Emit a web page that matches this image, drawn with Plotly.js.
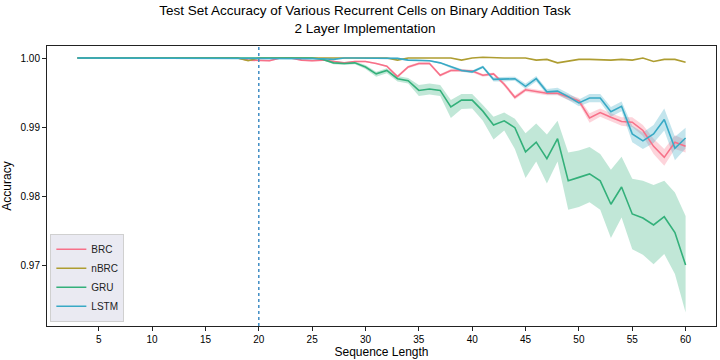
<!DOCTYPE html>
<html>
<head>
<meta charset="utf-8">
<script src="https://cdn.plot.ly/plotly-3.0.1.min.js"></script>
<style>html,body{margin:0;padding:0;background:#fff;}#chart{width:720px;height:360px;}</style>
</head>
<body>
<div id="chart"></div>
<script>
// Sequence lengths 3..60
const seqLen = [3,4,5,6,7,8,9,10,11,12,13,14,15,16,17,18,19,20,21,22,23,24,25,26,27,28,29,30,31,32,33,34,35,36,37,38,39,40,41,42,43,44,45,46,47,48,49,50,51,52,53,54,55,56,57,58,59,60];

const brcMean = [1,1,1,1,1,1,1,1,1,1,1,1,1,1,1,1,
  0.9997,0.9996,0.9996,1.0,1.0,0.9997,0.9996,0.9997,0.9995,0.9993,0.9995,0.9995,0.9992,0.9988,
  0.9973,0.9987,0.9992,0.9992,0.9975,0.9982,0.9982,0.9981,0.9975,0.9977,
  0.9962,0.9943,0.9954,0.9952,0.9949,0.9949,0.9943,0.9938,
  0.9913,0.9921,0.9914,0.9908,0.9907,0.9895,0.9872,0.9856,0.9878,0.9872];
const brcCI = [0,0,0,0,0,0,0,0,0,0,0,0,0,0,0,0,
  0.0001,0.0001,0.0001,0.0001,0.0001,0.0001,0.0001,0.0001,0.0001,0.0001,0.0001,0.0001,0.0001,0.0001,
  0.0002,0.0002,0.0002,0.0002,0.0002,0.0002,0.0002,0.0002,0.0002,0.0002,
  0.0003,0.0003,0.0003,0.0003,0.0003,0.0003,0.0004,0.0004,
  0.0007,0.0006,0.0006,0.0006,0.0007,0.0008,0.0011,0.0012,0.0010,0.0009];

const nbrcMean = [1,1,1,1,1,1,1,1,1,1,1,1,1,1,1,1,
  0.9996,1.0,1.0,1.0,1.0,1.0,1.0,1.0,1.0,1.0,1.0,1.0,1.0,1.0,
  0.9997,1.0,1.0,1.0,1.0,1.0,0.9997,1.0,1.0001,1.0,
  1.0,1.0,1.0,0.9997,0.9998,0.9993,0.9996,0.9998,
  0.9998,0.9997,0.9997,0.9998,0.9997,1.0,0.9995,0.9998,0.9998,0.9994];

const gruMean = [1,1,1,1,1,1,1,1,1,1,1,1,1,1,1,1,
  1.0,1.0,1.0,1.0,1.0,1.0,1.0,0.9998,0.9993,0.9992,0.9993,0.9987,0.9977,0.9982,
  0.9970,0.9967,0.9953,0.9955,0.9953,0.9929,0.9939,0.9939,0.9923,0.9903,
  0.9909,0.9899,0.9864,0.9878,0.9854,0.9883,0.9822,0.9827,
  0.9832,0.9822,0.9788,0.9813,0.9774,0.9768,0.9758,0.9770,0.9747,0.9700];
const gruUpper = [1,1,1,1,1,1,1,1,1,1,1,1,1,1,1,1,
  1.0,1.0,1.0,1.0,1.0,1.0,1.0,0.9999,0.9995,0.9994,0.9995,0.9990,0.9980,0.9985,
  0.9974,0.9971,0.9961,0.9963,0.9961,0.9939,0.9948,0.9948,0.9932,0.9915,
  0.9921,0.9912,0.9891,0.9905,0.9889,0.9909,0.9863,0.9866,
  0.9871,0.9861,0.9838,0.9857,0.9825,0.9822,0.9816,0.9822,0.9805,0.9771];
const gruLower = [1,1,1,1,1,1,1,1,1,1,1,1,1,1,1,1,
  1.0,1.0,1.0,1.0,1.0,1.0,1.0,0.9997,0.9991,0.9990,0.9991,0.9984,0.9973,0.9978,
  0.9966,0.9963,0.9945,0.9947,0.9945,0.9913,0.9926,0.9927,0.9909,0.9882,
  0.9895,0.9868,0.9826,0.9850,0.9818,0.9850,0.9780,0.9784,
  0.9791,0.9780,0.9739,0.9769,0.9723,0.9715,0.9701,0.9716,0.9687,0.9631];

const lstmMean = [1,1,1,1,1,1,1,1,1,1,1,1,1,1,1,1,
  1.0,1.0,1.0,1.0,1.0,1.0,1.0,0.9999,0.9998,1.0,1.0,1.0,1.0,1.0,
  0.99995,0.9997,0.9997,0.9996,0.9993,0.9987,0.9982,0.9980,0.9987,0.9969,
  0.9969,0.9970,0.9959,0.9970,0.9951,0.9952,0.9944,0.9935,
  0.9942,0.9942,0.9922,0.9930,0.9890,0.9880,0.9890,0.9911,0.9869,0.9884];
const lstmCI = [0,0,0,0,0,0,0,0,0,0,0,0,0,0,0,0,
  0,0,0,0,0,0,0,0.00005,0.00005,0,0,0,0,0,
  0.0001,0.0001,0.0001,0.0001,0.0001,0.0002,0.0002,0.0002,0.0002,0.0003,
  0.0003,0.0003,0.0004,0.0004,0.0004,0.0005,0.0005,0.0005,
  0.0006,0.0006,0.0007,0.0007,0.0012,0.0012,0.0013,0.0016,0.0017,0.0015];

const names = ['BRC','nBRC','GRU','LSTM'];
const colors = ['#f77189','#ae9d31','#33b07a','#38a9c5'];
const bandColors = ['rgba(247,113,137,0.3)','rgba(174,157,49,0.3)','rgba(51,176,122,0.3)','rgba(56,169,197,0.3)'];
const xTicks = [5,10,15,20,25,30,35,40,45,50,55,60];
const yTicks = [0.97,0.98,0.99,1.00];
const markerX = 20;

function add(arr, ci, s){ return arr.map((v,i)=>v + s*ci[i]); }

const series = [
  {mean: brcMean, up: add(brcMean, brcCI, 1), lo: add(brcMean, brcCI, -1)},
  {mean: nbrcMean, up: nbrcMean, lo: nbrcMean},
  {mean: gruMean, up: gruUpper, lo: gruLower},
  {mean: lstmMean, up: add(lstmMean, lstmCI, 1), lo: add(lstmMean, lstmCI, -1)}
];

const traces = [];
series.forEach((s, k) => {
  traces.push({x: seqLen, y: s.up, type:'scatter', mode:'lines', line:{width:0, color:bandColors[k]}, showlegend:false, hoverinfo:'skip'});
  traces.push({x: seqLen, y: s.lo, type:'scatter', mode:'lines', line:{width:0, color:bandColors[k]}, fill:'tonexty', fillcolor:bandColors[k], showlegend:false, hoverinfo:'skip'});
});
series.forEach((s, k) => {
  traces.push({x: seqLen, y: s.mean, type:'scatter', mode:'lines', name: names[k], line:{width:1.6, color:colors[k]}});
});

const font = "Arial, 'Liberation Sans', sans-serif";
const layout = {
  width: 720, height: 360,
  margin: {l:47, r:4, t:46, b:34},
  paper_bgcolor:'#ffffff', plot_bgcolor:'#ffffff',
  font: {family: font, color:'#000000', size:10},
  title: {text:'Test Set Accuracy of Various Recurrent Cells on Binary Addition Task<br>2 Layer Implementation',
          font:{family:font, size:13.5, color:'#000000'}, x:0.507, xref:'container', xanchor:'center', y:0.957, yref:'container', yanchor:'middle'},
  xaxis: {range:[0.15, 62.85], tickvals: xTicks, ticktext: xTicks.map(String), showgrid:false, zeroline:false,
          showline:true, mirror:true, linecolor:'#222222', linewidth:1, ticks:'outside', ticklen:4, tickcolor:'#222222',
          tickfont:{size:10}, title:{text:'Sequence Length', font:{size:12}, standoff:3}},
  yaxis: {range:[0.96116, 1.00174], tickvals: yTicks, ticktext: yTicks.map(v=>v.toFixed(2)), showgrid:false, zeroline:false,
          showline:true, mirror:true, linecolor:'#222222', linewidth:1, ticks:'outside', ticklen:4, tickcolor:'#222222',
          tickfont:{size:10}, title:{text:'Accuracy', font:{size:12}, standoff:6}},
  shapes: [{type:'line', xref:'x', yref:'paper', x0:markerX, x1:markerX, y0:0, y1:1, line:{color:'#3f8cc4', width:1.5, dash:'dot'}}],
  legend: {x:0.005, y:0.015, xanchor:'left', yanchor:'bottom', bgcolor:'#eaeaf2', bordercolor:'#d0d0d0', borderwidth:1,
           font:{size:10, color:'#222222'}, tracegroupgap:0, traceorder:'normal', itemwidth:30},
  showlegend: true
};

Plotly.newPlot('chart', traces, layout, {staticPlot:true, displayModeBar:false});
</script>
</body>
</html>
